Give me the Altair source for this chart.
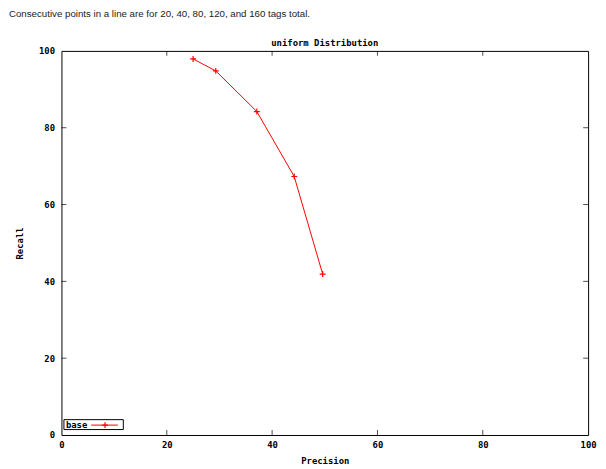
import altair as alt
import pandas as pd

# Data
precision = [25.0, 29.3, 37.1, 44.2, 49.6]
recall = [97.9, 94.8, 84.2, 67.3, 41.9]
series_name = "base"
tick_values = [0, 20, 40, 60, 80, 100]
inner_ticks = [20, 40, 60, 80]
note = "Consecutive points in a line are for 20, 40, 80, 120, and 160 tags total."
title_text = "uniform Distribution"

W, H = 532, 388
MONO = "DejaVu Sans Mono"
RED = "#ff0000"
PLUS = "M-1,0H1M0,-1V1"

df = pd.DataFrame({"Precision": precision, "Recall": recall, "series": series_name})
xt = pd.DataFrame({"Precision": inner_ticks})
yt = pd.DataFrame({"Recall": inner_ticks})
one = pd.DataFrame({"label": [series_name], "note": [note], "title": [title_text]})

xscale = alt.Scale(domain=[0, 100], nice=False, zero=False)
yscale = alt.Scale(domain=[0, 100], nice=False, zero=False)

xaxis = alt.Axis(values=tick_values, title="Precision", grid=False, domain=False, ticks=False,
                 labelPadding=6, titlePadding=7, labelFlush=False)
yaxis = alt.Axis(values=tick_values, title="Recall", grid=False, domain=False, ticks=False,
                 labelPadding=7, titlePadding=14, labelFlush=False)

X = alt.X("Precision:Q", scale=xscale, axis=xaxis)
Y = alt.Y("Recall:Q", scale=yscale, axis=yaxis)

line = alt.Chart(df).mark_line(color=RED, strokeWidth=1).encode(x=X, y=Y)
pts = alt.Chart(df).mark_point(shape=PLUS, color=RED, filled=False, size=36, strokeWidth=1.2,
                               opacity=1).encode(x=X, y=Y)

xt_bottom = alt.Chart(xt).mark_tick(color="black", size=5, thickness=1, orient="vertical").encode(
    x=X, y=alt.value(H - 2.5))
xt_top = alt.Chart(xt).mark_tick(color="black", size=5, thickness=1, orient="vertical").encode(
    x=X, y=alt.value(2.5))
yt_left = alt.Chart(yt).mark_tick(color="black", size=5, thickness=1, orient="horizontal").encode(
    y=Y, x=alt.value(2.5))
yt_right = alt.Chart(yt).mark_tick(color="black", size=5, thickness=1, orient="horizontal").encode(
    y=Y, x=alt.value(W - 2.5))

# legend box (bottom-left, inside the plot)
leg_box = alt.Chart(one).mark_rect(fill="white", stroke="black", strokeWidth=1).encode(
    x=alt.value(2.5), x2=alt.value(62.5), y=alt.value(H - 15.5), y2=alt.value(H - 5.5))
leg_text = alt.Chart(one).mark_text(font=MONO, fontWeight="bold", fontSize=9, align="left",
                                    baseline="middle", color="black").encode(
    x=alt.value(4.5), y=alt.value(H - 10), text="label:N")
leg_line = alt.Chart(one).mark_rule(color=RED, strokeWidth=1).encode(
    x=alt.value(30), x2=alt.value(57), y=alt.value(H - 10))
leg_pt = alt.Chart(one).mark_point(shape=PLUS, color=RED, filled=False, size=36, strokeWidth=1.2,
                                   opacity=1).encode(x=alt.value(44), y=alt.value(H - 10))

top_note = alt.Chart(one).mark_text(font="Liberation Sans", fontSize=9.8, align="left",
                                    baseline="alphabetic", color="#222").encode(
    x=alt.value(-53), y=alt.value(-34), text="note:N")
plot_title = alt.Chart(one).mark_text(font=MONO, fontSize=9, fontWeight="bold", align="center",
                                      baseline="alphabetic", color="black").encode(
    x=alt.value(W / 2), y=alt.value(-5), text="title:N")

chart = alt.layer(line, pts, xt_bottom, xt_top, yt_left, yt_right,
                  leg_box, leg_text, leg_line, leg_pt, top_note, plot_title).properties(
    width=W, height=H,
    background="white",
    autosize=alt.AutoSizeParams(type="none"),
    padding={"left": 54, "top": 41, "right": 10, "bottom": 31},
).configure_view(
    stroke="black", strokeWidth=1
).configure_axis(
    grid=False, domain=False, ticks=False,
    labelFont=MONO, labelFontSize=9, labelFontWeight="bold", labelColor="black",
    titleFont=MONO, titleFontSize=9, titleFontWeight="bold", titleColor="black",
)

chart.save("out.html", embed_options={"renderer": "svg", "actions": False})
